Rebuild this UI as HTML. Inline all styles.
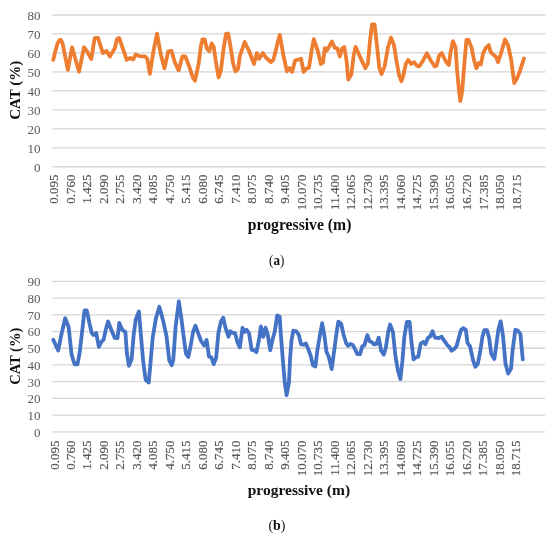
<!DOCTYPE html>
<html><head><meta charset="utf-8"><title>CAT charts</title>
<style>
html,body{margin:0;padding:0;background:#fff;}
body{width:550px;height:537px;overflow:hidden;}
svg{display:block;font-family:"Liberation Serif","Times New Roman",serif;}
.tick{font-size:13px;fill:#595959;}
.rot{stroke:#595959;stroke-width:0.2px;}
.ttl{font-size:14.5px;font-weight:bold;fill:#111;}
.cap{font-size:14.2px;fill:#111;}
</style></head><body>
<svg width="550" height="537" viewBox="0 0 550 537">
<line x1="52.5" x2="545.6" y1="166.75" y2="166.75" stroke="#d5d5d5" stroke-width="1.3"/>
<text x="40.6" y="171.65" text-anchor="end" class="tick">0</text>
<line x1="52.5" x2="545.6" y1="147.78" y2="147.78" stroke="#d5d5d5" stroke-width="1.3"/>
<text x="40.6" y="152.68" text-anchor="end" class="tick">10</text>
<line x1="52.5" x2="545.6" y1="128.81" y2="128.81" stroke="#d5d5d5" stroke-width="1.3"/>
<text x="40.6" y="133.71" text-anchor="end" class="tick">20</text>
<line x1="52.5" x2="545.6" y1="109.84" y2="109.84" stroke="#d5d5d5" stroke-width="1.3"/>
<text x="40.6" y="114.74" text-anchor="end" class="tick">30</text>
<line x1="52.5" x2="545.6" y1="90.87" y2="90.87" stroke="#d5d5d5" stroke-width="1.3"/>
<text x="40.6" y="95.77" text-anchor="end" class="tick">40</text>
<line x1="52.5" x2="545.6" y1="71.9" y2="71.9" stroke="#d5d5d5" stroke-width="1.3"/>
<text x="40.6" y="76.80" text-anchor="end" class="tick">50</text>
<line x1="52.5" x2="545.6" y1="52.93" y2="52.93" stroke="#d5d5d5" stroke-width="1.3"/>
<text x="40.6" y="57.83" text-anchor="end" class="tick">60</text>
<line x1="52.5" x2="545.6" y1="33.96" y2="33.96" stroke="#d5d5d5" stroke-width="1.3"/>
<text x="40.6" y="38.86" text-anchor="end" class="tick">70</text>
<line x1="52.5" x2="545.6" y1="14.99" y2="14.99" stroke="#d5d5d5" stroke-width="1.3"/>
<text x="40.6" y="19.89" text-anchor="end" class="tick">80</text>
<text transform="translate(58.00,174.6) rotate(-90)" text-anchor="end" class="tick rot">0.095</text>
<text transform="translate(74.52,174.6) rotate(-90)" text-anchor="end" class="tick rot">0.760</text>
<text transform="translate(91.04,174.6) rotate(-90)" text-anchor="end" class="tick rot">1.425</text>
<text transform="translate(107.56,174.6) rotate(-90)" text-anchor="end" class="tick rot">2.090</text>
<text transform="translate(124.08,174.6) rotate(-90)" text-anchor="end" class="tick rot">2.755</text>
<text transform="translate(140.60,174.6) rotate(-90)" text-anchor="end" class="tick rot">3.420</text>
<text transform="translate(157.12,174.6) rotate(-90)" text-anchor="end" class="tick rot">4.085</text>
<text transform="translate(173.64,174.6) rotate(-90)" text-anchor="end" class="tick rot">4.750</text>
<text transform="translate(190.16,174.6) rotate(-90)" text-anchor="end" class="tick rot">5.415</text>
<text transform="translate(206.68,174.6) rotate(-90)" text-anchor="end" class="tick rot">6.080</text>
<text transform="translate(223.20,174.6) rotate(-90)" text-anchor="end" class="tick rot">6.745</text>
<text transform="translate(239.72,174.6) rotate(-90)" text-anchor="end" class="tick rot">7.410</text>
<text transform="translate(256.24,174.6) rotate(-90)" text-anchor="end" class="tick rot">8.075</text>
<text transform="translate(272.76,174.6) rotate(-90)" text-anchor="end" class="tick rot">8.740</text>
<text transform="translate(289.28,174.6) rotate(-90)" text-anchor="end" class="tick rot">9.405</text>
<text transform="translate(305.80,174.6) rotate(-90)" text-anchor="end" class="tick rot">10.070</text>
<text transform="translate(322.32,174.6) rotate(-90)" text-anchor="end" class="tick rot">10.735</text>
<text transform="translate(338.84,174.6) rotate(-90)" text-anchor="end" class="tick rot">11.400</text>
<text transform="translate(355.36,174.6) rotate(-90)" text-anchor="end" class="tick rot">12.065</text>
<text transform="translate(371.88,174.6) rotate(-90)" text-anchor="end" class="tick rot">12.730</text>
<text transform="translate(388.40,174.6) rotate(-90)" text-anchor="end" class="tick rot">13.395</text>
<text transform="translate(404.92,174.6) rotate(-90)" text-anchor="end" class="tick rot">14.060</text>
<text transform="translate(421.44,174.6) rotate(-90)" text-anchor="end" class="tick rot">14.725</text>
<text transform="translate(437.96,174.6) rotate(-90)" text-anchor="end" class="tick rot">15.390</text>
<text transform="translate(454.48,174.6) rotate(-90)" text-anchor="end" class="tick rot">16.055</text>
<text transform="translate(471.00,174.6) rotate(-90)" text-anchor="end" class="tick rot">16.720</text>
<text transform="translate(487.52,174.6) rotate(-90)" text-anchor="end" class="tick rot">17.385</text>
<text transform="translate(504.04,174.6) rotate(-90)" text-anchor="end" class="tick rot">18.050</text>
<text transform="translate(520.56,174.6) rotate(-90)" text-anchor="end" class="tick rot">18.715</text>
<text transform="translate(19.7,90.3) rotate(-90)" text-anchor="middle" class="ttl" style="font-size:15px">CAT (%)</text>
<text x="299.6" y="229.6" text-anchor="middle" class="ttl" style="font-size:15.7px">progressive (m)</text>
<text x="269.1" y="264.9" textLength="15.3" lengthAdjust="spacingAndGlyphs" class="cap">(<tspan font-weight="bold">a</tspan>)</text>
<polyline points="53.28,59.93 55.07,52.03 57.45,43.69 59.24,40.41 60.73,39.66 62.51,43.09 67.88,69.91 72.05,47.26 79.05,71.69 83.97,47.26 87.24,51.58 91.27,59.03 94.69,38.18 97.97,37.88 102.89,53.07 106.61,50.99 109.89,56.5 114.8,48.31 117.04,39.07 119.12,37.88 123.0,49.05 126.72,59.93 130.21,57.99 133.19,59.48 135.73,54.56 139.15,56.05 145.11,56.5 147.35,59.03 149.88,73.93 153.31,52.03 157.03,33.71 160.75,54.26 164.48,68.42 168.2,51.28 171.48,50.99 174.91,62.46 178.63,70.35 182.36,56.5 185.34,56.5 189.06,66.18 192.78,77.36 195.02,80.78 198.74,63.2 200.98,45.33 202.77,39.37 202.23,39.37 204.77,39.37 206.7,48.31 209.24,51.28 211.62,43.54 213.71,46.82 216.09,63.2 218.62,77.36 220.86,70.65 223.84,46.82 226.07,33.71 228.31,33.71 230.54,46.82 233.07,63.2 235.46,71.4 237.99,69.16 239.93,55.75 244.69,42.05 249.16,51.28 253.93,63.95 256.91,53.07 259.14,58.73 262.87,53.07 266.29,57.99 270.76,62.01 273.3,59.93 276.72,46.82 277.23,43.84 279.77,34.9 283.19,54.26 286.92,71.4 289.45,67.97 292.13,71.84 295.11,60.52 298.84,59.48 301.07,58.73 303.6,71.84 306.58,68.42 308.97,67.97 311.5,51.28 313.73,39.07 317.46,49.8 320.88,63.95 322.97,62.46 324.91,48.01 326.84,50.54 329.38,46.07 331.91,41.6 334.59,47.56 337.27,48.31 339.8,56.5 342.04,48.31 344.27,47.11 346.51,60.22 348.3,79.59 351.49,74.06 353.72,54.69 355.66,46.95 360.43,57.67 365.34,68.1 367.88,63.63 370.11,39.8 372.05,24.45 374.58,24.45 376.82,44.26 379.35,68.1 381.58,74.06 384.56,66.61 387.99,47.24 390.97,37.56 393.95,45.01 396.18,59.16 399.16,75.55 401.4,81.21 403.33,75.55 405.87,63.63 408.1,59.91 411.08,63.93 414.06,62.14 417.04,65.87 419.27,66.31 423.0,60.65 426.79,53.31 430.96,60.75 434.68,66.42 436.62,65.52 439.15,55.54 441.69,53.01 445.86,61.5 448.84,64.93 450.62,51.82 452.86,41.09 455.54,47.35 457.03,69.69 458.97,90.55 460.31,100.98 462.24,90.55 464.48,62.24 466.42,39.9 468.5,39.9 471.48,47.35 474.16,60.75 476.4,68.2 478.63,62.99 480.87,64.48 483.1,53.31 486.08,47.35 488.76,45.11 490.55,51.82 494.27,55.54 496.21,57.03 498.0,62.24 500.54,54.8 505.01,39.45 507.99,45.11 510.97,58.52 514.25,83.1 516.93,78.63 519.91,71.18 523.93,58.52" fill="none" stroke="#ed7d31" stroke-width="3.8" stroke-linejoin="round" stroke-linecap="round"/>
<line x1="52.5" x2="545" y1="431.8" y2="431.8" stroke="#d5d5d5" stroke-width="1.3"/>
<text x="40.6" y="436.70" text-anchor="end" class="tick">0</text>
<line x1="52.5" x2="545" y1="415.09" y2="415.09" stroke="#d5d5d5" stroke-width="1.3"/>
<text x="40.6" y="419.99" text-anchor="end" class="tick">10</text>
<line x1="52.5" x2="545" y1="398.38" y2="398.38" stroke="#d5d5d5" stroke-width="1.3"/>
<text x="40.6" y="403.28" text-anchor="end" class="tick">20</text>
<line x1="52.5" x2="545" y1="381.67" y2="381.67" stroke="#d5d5d5" stroke-width="1.3"/>
<text x="40.6" y="386.57" text-anchor="end" class="tick">30</text>
<line x1="52.5" x2="545" y1="364.96" y2="364.96" stroke="#d5d5d5" stroke-width="1.3"/>
<text x="40.6" y="369.86" text-anchor="end" class="tick">40</text>
<line x1="52.5" x2="545" y1="348.25" y2="348.25" stroke="#d5d5d5" stroke-width="1.3"/>
<text x="40.6" y="353.15" text-anchor="end" class="tick">50</text>
<line x1="52.5" x2="545" y1="331.54" y2="331.54" stroke="#d5d5d5" stroke-width="1.3"/>
<text x="40.6" y="336.44" text-anchor="end" class="tick">60</text>
<line x1="52.5" x2="545" y1="314.83" y2="314.83" stroke="#d5d5d5" stroke-width="1.3"/>
<text x="40.6" y="319.73" text-anchor="end" class="tick">70</text>
<line x1="52.5" x2="545" y1="298.12" y2="298.12" stroke="#d5d5d5" stroke-width="1.3"/>
<text x="40.6" y="303.02" text-anchor="end" class="tick">80</text>
<line x1="52.5" x2="545" y1="281.41" y2="281.41" stroke="#d5d5d5" stroke-width="1.3"/>
<text x="40.6" y="286.31" text-anchor="end" class="tick">90</text>
<text transform="translate(58.50,440.4) rotate(-90)" text-anchor="end" class="tick rot">0.095</text>
<text transform="translate(74.99,440.4) rotate(-90)" text-anchor="end" class="tick rot">0.760</text>
<text transform="translate(91.47,440.4) rotate(-90)" text-anchor="end" class="tick rot">1.425</text>
<text transform="translate(107.96,440.4) rotate(-90)" text-anchor="end" class="tick rot">2.090</text>
<text transform="translate(124.44,440.4) rotate(-90)" text-anchor="end" class="tick rot">2.755</text>
<text transform="translate(140.93,440.4) rotate(-90)" text-anchor="end" class="tick rot">3.420</text>
<text transform="translate(157.41,440.4) rotate(-90)" text-anchor="end" class="tick rot">4.085</text>
<text transform="translate(173.90,440.4) rotate(-90)" text-anchor="end" class="tick rot">4.750</text>
<text transform="translate(190.38,440.4) rotate(-90)" text-anchor="end" class="tick rot">5.415</text>
<text transform="translate(206.87,440.4) rotate(-90)" text-anchor="end" class="tick rot">6.080</text>
<text transform="translate(223.35,440.4) rotate(-90)" text-anchor="end" class="tick rot">6.745</text>
<text transform="translate(239.83,440.4) rotate(-90)" text-anchor="end" class="tick rot">7.410</text>
<text transform="translate(256.32,440.4) rotate(-90)" text-anchor="end" class="tick rot">8.075</text>
<text transform="translate(272.81,440.4) rotate(-90)" text-anchor="end" class="tick rot">8.740</text>
<text transform="translate(289.29,440.4) rotate(-90)" text-anchor="end" class="tick rot">9.405</text>
<text transform="translate(305.77,440.4) rotate(-90)" text-anchor="end" class="tick rot">10.070</text>
<text transform="translate(322.26,440.4) rotate(-90)" text-anchor="end" class="tick rot">10.735</text>
<text transform="translate(338.75,440.4) rotate(-90)" text-anchor="end" class="tick rot">11.400</text>
<text transform="translate(355.23,440.4) rotate(-90)" text-anchor="end" class="tick rot">12.065</text>
<text transform="translate(371.71,440.4) rotate(-90)" text-anchor="end" class="tick rot">12.730</text>
<text transform="translate(388.20,440.4) rotate(-90)" text-anchor="end" class="tick rot">13.395</text>
<text transform="translate(404.69,440.4) rotate(-90)" text-anchor="end" class="tick rot">14.060</text>
<text transform="translate(421.17,440.4) rotate(-90)" text-anchor="end" class="tick rot">14.725</text>
<text transform="translate(437.65,440.4) rotate(-90)" text-anchor="end" class="tick rot">15.390</text>
<text transform="translate(454.14,440.4) rotate(-90)" text-anchor="end" class="tick rot">16.055</text>
<text transform="translate(470.62,440.4) rotate(-90)" text-anchor="end" class="tick rot">16.720</text>
<text transform="translate(487.11,440.4) rotate(-90)" text-anchor="end" class="tick rot">17.385</text>
<text transform="translate(503.59,440.4) rotate(-90)" text-anchor="end" class="tick rot">18.050</text>
<text transform="translate(520.08,440.4) rotate(-90)" text-anchor="end" class="tick rot">18.715</text>
<text transform="translate(19.7,356.3) rotate(-90)" text-anchor="middle" class="ttl" style="font-size:14.5px">CAT (%)</text>
<text x="298.9" y="494.6" text-anchor="middle" class="ttl" style="font-size:15.5px">progressive (m)</text>
<text x="268.4" y="529.5" textLength="17" lengthAdjust="spacingAndGlyphs" class="cap">(<tspan font-weight="bold">b</tspan>)</text>
<polyline points="53.28,339.69 58.19,350.42 61.92,332.24 65.2,318.09 68.62,327.03 71.6,354.59 74.58,364.27 77.56,364.27 79.8,351.61 82.03,332.24 84.56,310.34 86.8,310.34 89.48,323.31 91.71,332.99 93.5,334.93 96.18,332.99 98.86,346.84 101.4,341.93 103.63,339.69 105.87,329.26 108.1,321.52 111.08,329.26 114.8,337.91 117.49,338.2 119.27,323.01 122.25,329.71 125.38,331.95 126.9,353.4 128.96,365.75 131.65,358.94 133.71,334.41 135.76,319.37 138.93,311.45 140.83,334.41 143.2,361.32 145.58,379.52 148.74,382.53 150.64,361.32 152.7,337.57 155.87,318.58 159.35,306.71 162.99,320.16 166.47,335.99 169.32,360.52 171.69,365.27 173.28,359.73 175.65,326.49 178.82,301.48 181.19,316.99 183.57,335.99 185.94,353.4 188.32,356.88 190.69,345.49 193.06,332.03 195.44,325.7 198.6,334.41 200.98,340.74 204.14,345.49 206.58,339.95 208.96,356.57 211.33,357.36 213.71,364.16 216.08,358.15 218.45,332.82 220.83,321.74 223.2,317.79 225.58,328.07 228.43,336.78 230.33,331.24 232.7,332.82 235.07,333.14 237.45,342.32 239.82,347.39 242.51,327.76 244.57,332.03 246.47,329.66 249.0,333.14 251.69,349.92 254.07,350.24 256.44,352.13 258.82,340.74 260.88,326.49 263.25,336.78 265.62,327.76 267.52,333.61 270.21,350.24 272.75,338.84 274.8,331.56 277.18,315.41 279.71,316.68 280.6,331.5 282.7,358.1 284.8,382.8 286.6,395.2 288.9,382.8 290.1,358.1 291.5,340.4 293.3,330.6 296.37,331.3 298.74,334.79 301.12,344.28 303.49,344.76 305.87,343.49 308.24,349.03 310.61,355.36 312.99,365.34 315.36,366.44 317.42,349.82 320.11,333.99 322.17,323.23 324.39,335.58 326.44,351.72 328.82,356.95 331.67,369.13 333.88,352.99 336.42,333.99 338.32,321.65 341.16,323.71 343.38,333.99 346.23,343.49 348.13,345.87 350.66,343.81 352.88,345.07 355.0,349.07 357.37,354.13 360.07,354.13 362.12,346.69 364.5,345.11 367.35,335.14 369.56,341.15 371.62,341.95 373.99,344.32 376.37,344.0 378.74,337.67 381.12,350.65 383.81,354.61 385.87,347.49 388.24,331.66 390.14,324.53 392.99,332.45 395.36,355.4 397.74,369.65 400.43,379.14 402.49,360.15 404.39,336.41 406.92,321.84 409.61,321.84 411.19,339.57 413.57,359.36 415.94,357.3 418.32,356.67 420.69,343.53 423.38,341.95 425.44,344.32 427.81,337.99 430.19,336.41 432.56,331.34 434.94,337.67 438.96,337.99 441.65,336.72 444.5,341.15 447.35,345.11 449.25,346.69 451.62,350.65 453.99,349.07 456.37,346.69 458.74,337.99 461.12,329.76 463.49,328.18 465.87,330.07 467.45,342.74 470.14,346.69 472.99,360.15 475.36,366.8 477.74,364.11 480.11,352.24 482.49,336.41 484.39,330.07 486.92,330.07 489.13,337.99 491.19,353.82 494.36,358.88 496.42,344.32 498.32,330.07 500.69,321.37 503.06,336.41 505.44,363.32 508.13,373.6 510.98,368.86 512.56,350.65 515.34,329.76 518.03,330.87 520.4,334.03 521.67,347.49 522.78,359.36" fill="none" stroke="#4472c4" stroke-width="3.8" stroke-linejoin="round" stroke-linecap="round"/>
</svg>
</body></html>
